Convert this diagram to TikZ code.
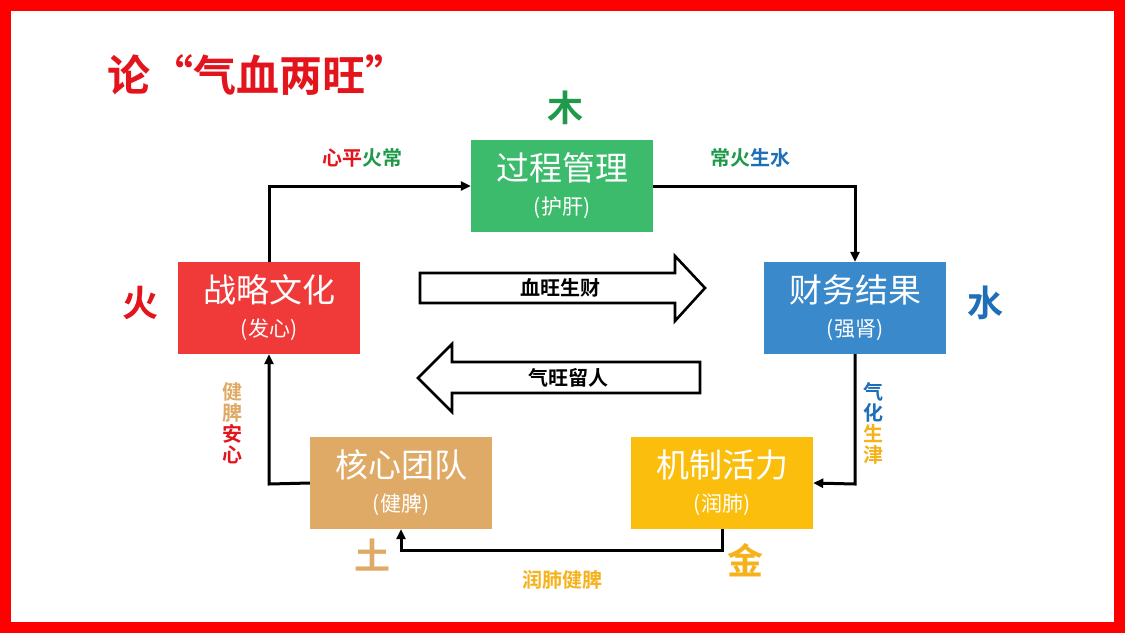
\documentclass[tikz,border=0pt]{standalone}
\usepackage{fontspec}
\newfontfamily\cjk{Noto Sans CJK SC}
\newfontfamily\cjkb{Noto Sans CJK SC Bold}
\usetikzlibrary{arrows.meta}
\definecolor{cred}{HTML}{F03A3A}
\definecolor{cgreen}{HTML}{3DBB6C}
\definecolor{cblue}{HTML}{3A89CA}
\definecolor{ctan}{HTML}{DEAA66}
\definecolor{cyel}{HTML}{FBBE0C}
\definecolor{tred}{HTML}{E3141B}
\definecolor{tgreen}{HTML}{1E9A4A}
\definecolor{tblue}{HTML}{1F6FB8}
\definecolor{tor}{HTML}{F6B21B}
\tikzset{
 box/.style={minimum width=182pt,minimum height=92pt,inner sep=0pt,text=white,align=center,font=\cjk\fontsize{33}{38}\selectfont},
 conn/.style={line width=3pt,-{Triangle[length=10pt,width=9pt]}},
 lab/.style={font=\cjkb\fontsize{20}{22}\selectfont},
 elem/.style={font=\cjkb\fontsize{36}{36}\selectfont},
 big/.style={draw=black,line width=2.6pt,fill=white,line join=miter}
}
\begin{document}
\begin{tikzpicture}[x=1pt,y=-1pt]
\fill[red] (0,0) rectangle (1125,633);
\fill[white] (11,11) rectangle (1114,622);
\useasboundingbox (0,0) rectangle (1125,633);
\node[anchor=west,text=tred,font=\cjkb\fontsize{43}{46}\selectfont] (title) at (104,75) {论“气血两旺”};
\node[box,fill=cgreen] (gc) at (562,186) {过程管理\\[-4pt]{\fontsize{21}{24}\selectfont(护肝)}};
\node[box,fill=cred] (zl) at (269,308) {战略文化\\[-4pt]{\fontsize{21}{24}\selectfont(发心)}};
\node[box,fill=cblue] (cw) at (855,308) {财务结果\\[-4pt]{\fontsize{21}{24}\selectfont(强肾)}};
\node[box,fill=ctan] (hx) at (401,483) {核心团队\\[-4pt]{\fontsize{21}{24}\selectfont(健脾)}};
\node[box,fill=cyel] (jz) at (722,483) {机制活力\\[-4pt]{\fontsize{21}{24}\selectfont(润肺)}};
\node[elem,text=tgreen] (mu) at (565,108) {木};
\node[elem,text=tred] (huo) at (140,303) {火};
\node[elem,text=tblue] (shui) at (985,303) {水};
\node[elem,text=ctan] (tu) at (372,555) {土};
\node[elem,text=tor] (jin) at (745,560) {金};
\coordinate (c1) at (269,186);
\coordinate (c2) at (855,186);
\coordinate (c3) at (855,484);
\coordinate (c4) at (722,550);
\coordinate (c5) at (401,550);
\coordinate (c6) at (269,484);
\draw[conn] (zl.north) -- (c1) -- (gc.west);
\draw[conn] (gc.east) -- (c2) -- (cw.north);
\draw[conn] (cw.south) -- (c3) -- (jz.east);
\draw[conn] (jz.south) -- (c4) -- (c5) -- (hx.south);
\draw[conn] (hx.west) -- (c6) -- (zl.south);
\node[lab] (l1) at (362,158) {\textcolor{tred}{心平}\textcolor{tgreen}{火常}};
\node[lab] (l2) at (750,158) {\textcolor{tgreen}{常火}\textcolor{tblue}{生水}};
\node[lab,align=center] (l3) at (873,423) {\textcolor{tblue}{气}\\[-1pt]\textcolor{tblue}{化}\\[-1pt]\textcolor{tor}{生}\\[-1pt]\textcolor{tor}{津}};
\node[lab,align=center] (l4) at (232,423) {\textcolor{ctan}{健}\\[-1pt]\textcolor{ctan}{脾}\\[-1pt]\textcolor{tred}{安}\\[-1pt]\textcolor{tred}{心}};
\node[lab,text=tor] (l5) at (562,580) {润肺健脾};
\draw[big] (420,273) -- (675,273) -- (675,256) -- (705,288) -- (675,321) -- (675,303) -- (420,303) -- cycle;
\node[lab] (a1) at (560,288) {血旺生财};
\draw[big] (700,362) -- (452,362) -- (452,344) -- (418,378) -- (452,412) -- (452,393) -- (700,393) -- cycle;
\node[lab] (a2) at (568,378) {气旺留人};
\end{tikzpicture}
\end{document}
